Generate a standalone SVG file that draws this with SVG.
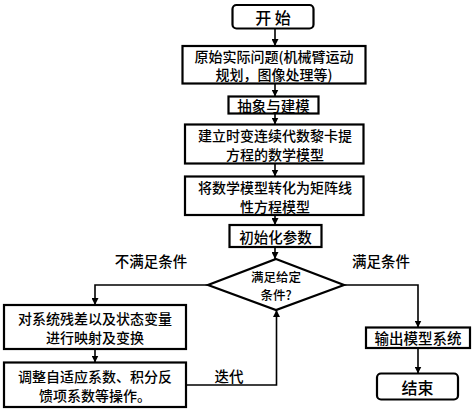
<svg xmlns="http://www.w3.org/2000/svg" width="474" height="412" viewBox="0 0 474 412">
<defs>
<marker id="ah" viewBox="0 0 8 8" refX="8" refY="4" markerWidth="7" markerHeight="7" markerUnits="userSpaceOnUse" orient="auto">
<path d="M0,0 L8,4 L0,8 Z" fill="#000"/>
</marker>
<style>
.box{fill:#fff;stroke:#000;stroke-width:2.2}
.t{font-family:"Noto Sans CJK SC","Noto Sans CJK JP",sans-serif;font-size:14.5px;font-weight:500;fill:#000;text-anchor:middle;dominant-baseline:central}
.m{font-size:14px}
.s{font-size:12.5px}
.c{fill:none;stroke:#000;stroke-width:1.6}
</style>
</defs>
<rect width="474" height="412" fill="#fff"/>
<g id="connectors">
<line class="c" x1="275" y1="28.5" x2="275" y2="46" marker-end="url(#ah)"/>
<line class="c" x1="275" y1="83.5" x2="275" y2="96.5" marker-end="url(#ah)"/>
<line class="c" x1="275" y1="113.5" x2="275" y2="124.5" marker-end="url(#ah)"/>
<line class="c" x1="275" y1="163.5" x2="275" y2="176.5" marker-end="url(#ah)"/>
<line class="c" x1="275" y1="215" x2="275" y2="225" marker-end="url(#ah)"/>
<line class="c" x1="275" y1="247" x2="275" y2="259" marker-end="url(#ah)"/>
<polyline class="c" points="208,285 95,285 95,305" marker-end="url(#ah)"/>
<line class="c" x1="95" y1="349" x2="95" y2="362.5" marker-end="url(#ah)"/>
<polyline class="c" points="186,385 276.5,385 276.5,310" marker-end="url(#ah)"/>
<polyline class="c" points="344,285 418,285 418,327.5" marker-end="url(#ah)"/>
<line class="c" x1="418" y1="348" x2="418" y2="373.5" marker-end="url(#ah)"/>
<text class="t" x="151" y="260">不满足条件</text>
<text class="t" x="381" y="260">满足条件</text>
<text class="t" x="229" y="375">迭代</text>
</g>
<g id="start">
<rect class="box" x="232.5" y="5" width="81" height="23.5" rx="4"/>
<text class="t" x="273" y="16.5" style="font-size:16px">开 始</text>
</g>
<g id="problem">
<rect class="box" x="182.5" y="46" width="183" height="37.5"/>
<text class="t m" x="274" y="55.5">原始实际问题(机械臂运动</text>
<text class="t m" x="274" y="74">规划，图像处理等)</text>
</g>
<g id="abstract">
<rect class="box" x="228.5" y="96.5" width="90" height="17"/>
<text class="t" x="273.5" y="105">抽象与建模</text>
</g>
<g id="model">
<rect class="box" x="185" y="124.5" width="178.5" height="39"/>
<text class="t m" x="275" y="134.5">建立时变连续代数黎卡提</text>
<text class="t m" x="275" y="153.5">方程的数学模型</text>
</g>
<g id="matrix">
<rect class="box" x="185" y="176.5" width="178.5" height="38.5"/>
<text class="t m" x="275" y="186.5">将数学模型转化为矩阵线</text>
<text class="t m" x="275" y="205.5">性方程模型</text>
</g>
<g id="init">
<rect class="box" x="229.5" y="225" width="92" height="22"/>
<text class="t" x="275.5" y="236">初始化参数</text>
</g>
<g id="decision">
<polygon class="box" points="276,259 344,285 276,310 208,285"/>
<text class="t s" x="276" y="276.5">满足给定</text>
<text class="t s" x="276" y="294">条件?</text>
</g>
<g id="map">
<rect class="box" x="4" y="305" width="182" height="44"/>
<text class="t m" x="95" y="318">对系统残差以及状态变量</text>
<text class="t m" x="95" y="337">进行映射及变换</text>
</g>
<g id="adjust">
<rect class="box" x="4" y="362.5" width="182" height="44.5"/>
<text class="t m" x="95" y="375.5">调整自适应系数、积分反</text>
<text class="t m" x="95" y="395">馈项系数等操作。</text>
</g>
<g id="output">
<rect class="box" x="366" y="327.5" width="104" height="20.5"/>
<text class="t" x="418" y="337.5">输出模型系统</text>
</g>
<g id="end">
<rect class="box" x="377" y="373.5" width="81" height="26" rx="4"/>
<text class="t" x="417.5" y="386.5" style="font-size:16px">结束</text>
</g>
</svg>
